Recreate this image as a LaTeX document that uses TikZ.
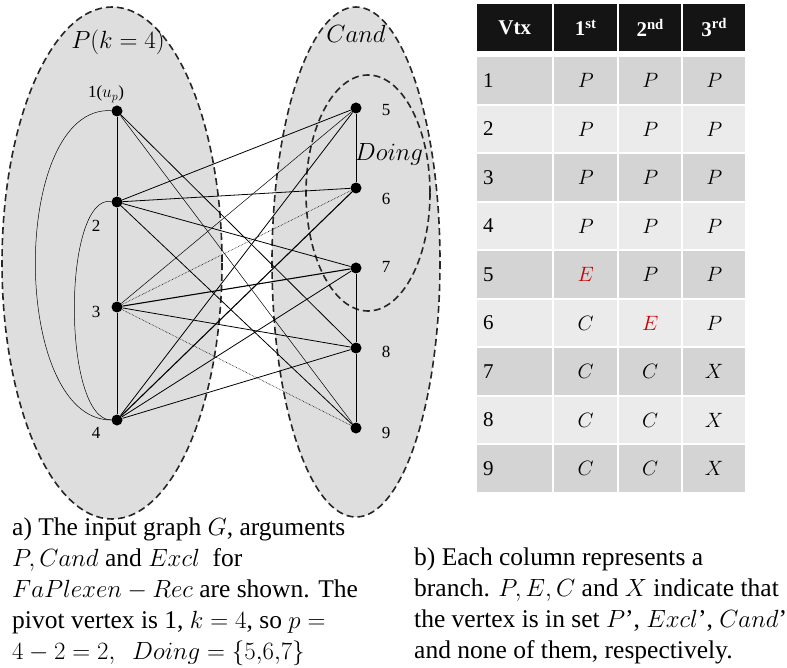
\documentclass[tikz,border=0pt]{standalone}
\usepackage{fontspec}
\setmainfont{Liberation Serif}
\begin{document}
\begin{tikzpicture}[x=1pt,y=-1pt,
  v/.style={circle,fill=black,inner sep=0pt,minimum size=11pt},
  lab/.style={font=\fontsize{17}{19}\selectfont},
  grp/.style={draw=black!85,line width=1.6pt,dash pattern=on 7pt off 4pt,fill=black!13},
  e/.style={line width=0.8pt},
  et/.style={line width=0.5pt},
  ed/.style={line width=0.6pt,densely dotted},
  hd/.style={fill=black!92,text=white,font=\bfseries\fontsize{21}{23}\selectfont,inner sep=0pt,anchor=north west},
  oc/.style={fill=black!17,font=\fontsize{21}{23}\selectfont,inner sep=0pt,anchor=north west},
  ec/.style={fill=black!8,font=\fontsize{21}{23}\selectfont,inner sep=0pt,anchor=north west},
  captxt/.style={anchor=base west,font=\fontsize{25.5}{28}\selectfont,inner sep=0pt}]
\useasboundingbox (0,0) rectangle (787,668);
\draw[grp] (112,263) ellipse [x radius=110, y radius=256];
\draw[grp] (356,262) ellipse [x radius=84, y radius=255];
\draw[grp,fill=none] (368,193) ellipse [x radius=62, y radius=118];
\node[font=\fontsize{23}{25}\selectfont] (tp) at (118,42) {$P(k=4)$};
\node[font=\fontsize{23}{25}\selectfont] (tc) at (356,34) {$Cand$};
\node[font=\fontsize{23}{25}\selectfont] (td) at (389,154) {$Doing$};
\node[v] (1) at (117,111) {};
\node[v] (2) at (117,202) {};
\node[v] (3) at (117,307) {};
\node[v] (4) at (117,420) {};
\node[v] (5) at (356,108) {};
\node[v] (6) at (356,188) {};
\node[v] (7) at (356,268) {};
\node[v] (8) at (356,348) {};
\node[v] (9) at (356,428) {};
\node[lab] (l1) at (106,94) {1($u_p$)};
\node[lab] (l2) at (96,226) {2};
\node[lab] (l3) at (96,312) {3};
\node[lab] (l4) at (96,433) {4};
\node[lab] (l5) at (386,110) {5};
\node[lab] (l6) at (386,199) {6};
\node[lab] (l7) at (386,267) {7};
\node[lab] (l8) at (386,352) {8};
\node[lab] (l9) at (386,433) {9};
\draw[e] (1)--(2) (2)--(3) (3)--(4) (5)--(6) (7)--(8) (8)--(9);
\draw[et] (1) .. controls (10,105) and (10,420) .. (4);
\draw[et] (2) .. controls (62,195) and (62,420) .. (4);
\draw[e] (1)--(8);
\draw[et] (1)--(9);
\draw[e] (2)--(5) (2)--(6) (2)--(7) (2)--(9);
\draw[et] (3)--(5);
\draw[ed] (3)--(6);
\draw[e,line width=1.1pt] (3)--(7);
\draw[e] (3)--(8);
\draw[ed] (3)--(9);
\draw[e] (4)--(5) (4)--(7) (4)--(8);
\draw[e,line width=1.1pt] (4)--(6);
% table
\foreach \c/\x/\w/\t in {0/477/75/Vtx,1/554/63/1\textsuperscript{st},2/619/62/2\textsuperscript{nd},3/683/62/3\textsuperscript{rd}}{
  \node[hd,minimum width=\w pt,minimum height=47pt] (h\c) at (\x,4) {\t};}
\foreach \r/\a/\b/\cc in {1/P/P/P,2/P/P/P,3/P/P/P,4/P/P/P,5/\textcolor{red!80!black}{E}/P/P,6/C/\textcolor{red!80!black}{E}/P,7/C/C/X,8/C/C/X,9/C/C/X}{
  \pgfmathsetmacro{\yy}{57+(\r-1)*48.5}
  \pgfmathtruncatemacro{\odd}{mod(\r,2)}
  \ifnum\odd=1 \def\sty{oc}\else\def\sty{ec}\fi
  \node[\sty,minimum width=75pt,minimum height=46.5pt,text width=63pt,align=left] (c\r0) at (477,\yy) {\r};
  \node[\sty,minimum width=63pt,minimum height=46.5pt] (c\r1) at (554,\yy) {$\a$};
  \node[\sty,minimum width=62pt,minimum height=46.5pt] (c\r2) at (619,\yy) {$\b$};
  \node[\sty,minimum width=62pt,minimum height=46.5pt] (c\r3) at (683,\yy) {$\cc$};
}
% captions
\node[captxt] (a1) at (12,535) {a) The input graph $G$, arguments};
\node[captxt] (a2) at (12,566) {$P,Cand$ and $Excl$\ \ for};
\node[captxt] (a3) at (12,597) {$FaPlexen-Rec$ are shown. The};
\node[captxt] (a4) at (12,628) {pivot vertex is 1, $k=4$, so $p=$};
\node[captxt] (a5) at (12,659) {$4-2=2,\ \ Doing=\{5{,}6{,}7\}$};
\node[captxt] (b1) at (414,565) {b) Each column represents a};
\node[captxt] (b2) at (414,596) {branch. $P,E,C$ and $X$ indicate that};
\node[captxt] (b3) at (414,627) {the vertex is in set $P$', $Excl$', $Cand$'};
\node[captxt] (b4) at (414,658) {and none of them, respectively.};
\end{tikzpicture}
\end{document}
